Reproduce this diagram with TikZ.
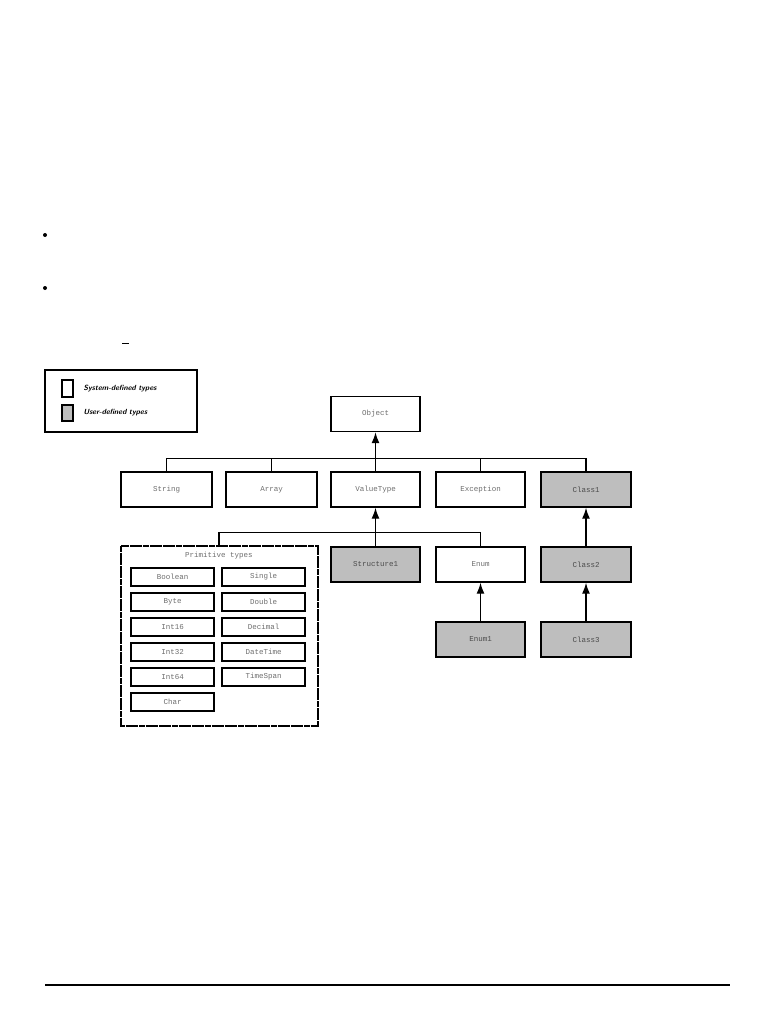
\documentclass[tikz,border=0pt]{standalone}
\usepackage{fontspec}
\setmainfont{Liberation Sans}
\setmonofont{Liberation Mono}
\usetikzlibrary{arrows.meta, positioning, calc}
\definecolor{tygray}{RGB}{190,190,190}
\definecolor{txtgray}{RGB}{110,110,110}
\begin{document}
\begin{tikzpicture}[x=1pt, y=-1pt, font=\ttfamily\fontsize{7.5}{8}\selectfont,
    typebox/.style={draw, line width=1.4pt, fill=white, minimum width=89pt,
      minimum height=35pt, inner sep=0pt, text=txtgray},
    userbox/.style={typebox, fill=tygray, text=black!70},
    primbox/.style={draw, line width=1.2pt, fill=white, minimum width=83pt,
      minimum height=18pt, inner sep=0pt, text=txtgray},
    inherit/.style={line width=1.4pt, -{Latex[length=11pt, width=8pt]}},
    bus/.style={line width=1.4pt}]
  \useasboundingbox (0,0) rectangle (768,1024);
  % page marks
  \fill (45,235) circle (2pt);
  \fill (45,288) circle (2pt);
  \draw[line width=0.8pt] (122,343) -- (129,343);
  \draw[line width=1.2pt] (45,985) -- (730,985);
  % legend
  \draw[line width=1.4pt] (45,370) rectangle (197,432);
  \draw[line width=1.2pt, fill=white] (62,380) rectangle (73,397);
  \draw[line width=1.2pt, fill=tygray] (62,405) rectangle (73,421);
  \node[anchor=west, font=\sffamily\bfseries\itshape\fontsize{7.5}{8}\selectfont] (sys) at (80,389) {System-defined types};
  \node[anchor=west, font=\sffamily\bfseries\itshape\fontsize{7.5}{8}\selectfont] (usr) at (80,413) {User-defined types};
  % hierarchy
  \node[typebox] (object) at (375.5,414) {Object};
  \node[typebox, minimum width=91pt] (string) at (166.5,489.5) {String};
  \node[typebox, minimum width=91pt] (array) at (271.5,489.5) {Array};
  \node[typebox] (valuetype) at (375.5,489.5) {ValueType};
  \node[typebox] (exception) at (480.5,489.5) {Exception};
  \node[userbox, minimum width=90pt] (class1) at (586,489.5) {Class1};
  \node[userbox] (structure1) at (375.5,564.5) {Structure1};
  \node[typebox] (enum) at (480.5,564.5) {Enum};
  \node[userbox, minimum width=90pt] (class2) at (586,564.5) {Class2};
  \node[userbox] (enum1) at (480.5,639.5) {Enum1};
  \node[userbox, minimum width=90pt] (class3) at (586,639.5) {Class3};
  % primitive types
  \draw[line width=2.2pt, dash pattern=on 6pt off 0.6pt] (121,546) rectangle (318,726);
  \coordinate (primtop) at (219,546);
  \node[text=txtgray] (primtitle) at (219,556) {Primitive types};
  \foreach \name/\col/\row in {Boolean/0/0, Byte/0/1, Int16/0/2, Int32/0/3, Int64/0/4, Char/0/5,
      Single/1/0, Double/1/1, Decimal/1/2, DateTime/1/3, TimeSpan/1/4}
    \node[primbox] (p\name) at (172.5+91*\col, 577+25*\row) {\name};
  % connectors
  \coordinate (bus1) at ($(object.south)+(0,26)$);
  \draw[bus] (string.north) |- (bus1) -| (class1.north);
  \draw[bus] (array.north) -- (array.north |- bus1);
  \draw[bus] (exception.north) -- (exception.north |- bus1);
  \draw[inherit] (valuetype.north) -- (object.south);
  \coordinate (bus2) at ($(valuetype.south)+(0,25)$);
  \draw[bus] (primtop) |- (bus2) -| (enum.north);
  \draw[inherit] (structure1.north) -- (valuetype.south);
  \draw[inherit] (enum1.north) -- (enum.south);
  \draw[inherit] (class3.north) -- (class2.south);
  \draw[inherit] (class2.north) -- (class1.south);
\end{tikzpicture}
\end{document}
